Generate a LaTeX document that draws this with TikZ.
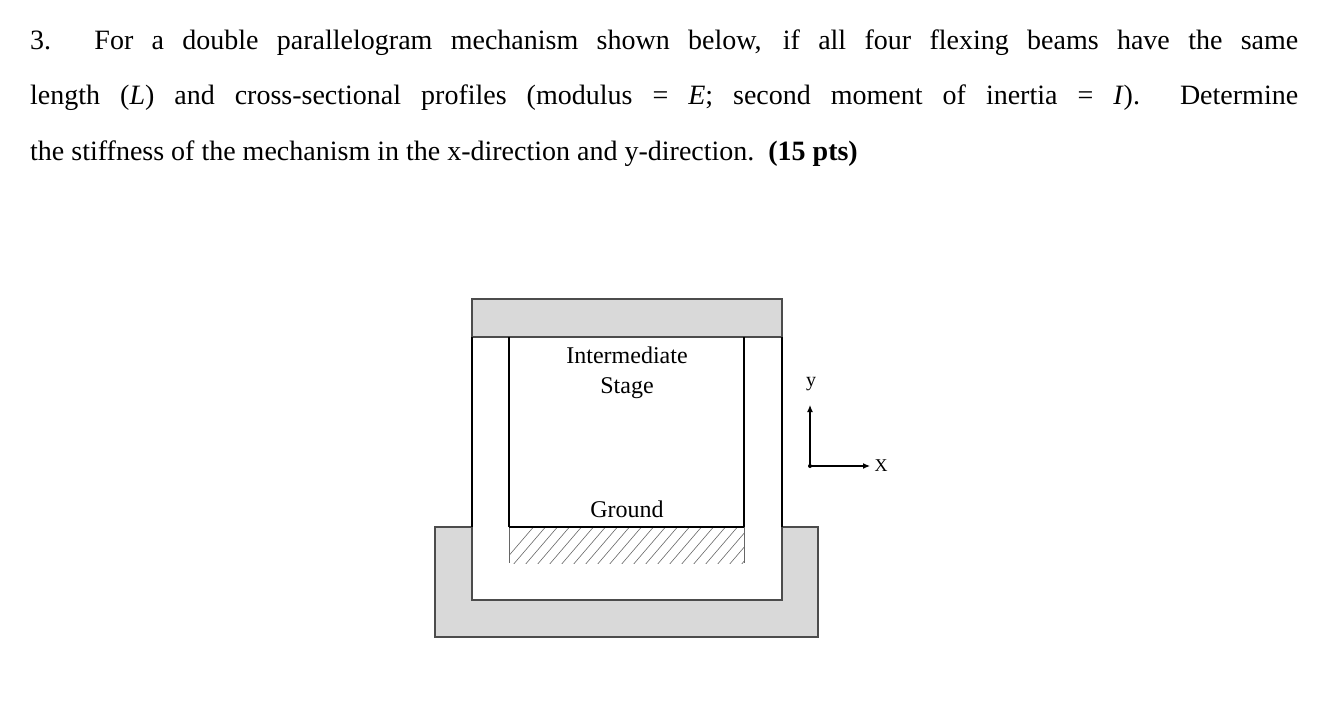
\documentclass[tikz,border=0pt]{standalone}
\usepackage{fontspec}
\usetikzlibrary{arrows.meta}
\setmainfont{Liberation Serif}
\begin{document}
\begin{tikzpicture}[x=1pt,y=-1pt,
  grey/.style={fill=black!15,draw=black!70,line width=1.2},
  beam/.style={line width=2.2},
  ttl/.style={anchor=base west,inner sep=0,font=\fontsize{28}{34}\selectfont},
  lab/.style={inner sep=0,font=\fontsize{24}{28}\selectfont}]
\useasboundingbox (0,0) rectangle (1340,706);
\node[ttl] (l1) at (30,50) {\hbox to 1268pt{3. For a double parallelogram mechanism shown below, if all four flexing beams have the same}};
\node[ttl] (l2) at (30,105) {\hbox to 1268pt{length (\textit{L}) and cross-sectional profiles (modulus = \textit{E}; second moment of inertia = \textit{I}).\ \ Determine}};
\node[ttl] (l3) at (30,160) {the stiffness of the mechanism in the x-direction and y-direction.\ \ \textbf{(15 pts)}};
% top stage
\draw[grey] (472,299) rectangle (782,337);
% ground U
\draw[grey] (435,527) -- (472,527) -- (472,600) -- (782,600) -- (782,527) -- (818,527) -- (818,637) -- (435,637) -- cycle;
% hatch
\begin{scope}
\clip (509,527) rectangle (744,563);
\foreach \i in {0,...,24} \draw[black!60,line width=0.6] (500+12*\i,566) -- (536+12*\i,524);
\end{scope}
\draw[black!60,line width=0.8] (509,527) -- (509,563) (744,527) -- (744,563);
\draw[line width=1.2] (509,527) -- (744,527);
% beams
\draw[beam] (472,337) -- (472,527);
\draw[beam] (782,337) -- (782,527);
\draw[beam] (509,337) -- (509,527);
\draw[beam] (744,337) -- (744,527);
\node[lab] (int) at (627,355) {Intermediate};
\node[lab] (stg) at (627,388) {Stage};
\node[lab] (gnd) at (627,509) {Ground};
% axes
\coordinate (o) at (810,466);
\coordinate (yt) at (810,405);
\coordinate (xt) at (870,466);
\fill (o) circle (2);
\draw[line width=1.2,-{Latex[length=7,width=6]}] (o) -- (yt);
\draw[line width=1.2,-{Latex[length=7,width=6]}] (o) -- (xt);
\node[lab,font=\fontsize{20}{24}\selectfont] (ylab) at (811,384) {y};
\node[lab,font=\fontsize{18}{22}\selectfont] (xlab) at (881,466) {X};
\end{tikzpicture}
\end{document}
